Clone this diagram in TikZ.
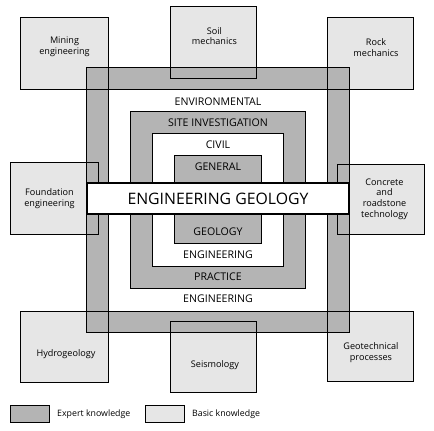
\documentclass[tikz,border=0pt]{standalone}
\usepackage{fontspec}
\setmainfont{Open Sans}
\definecolor{expert}{RGB}{180,180,180}
\definecolor{basic}{RGB}{230,230,230}
\tikzset{
  basicbox/.style={fill=basic, draw=black, line width=0.9pt},
  boxline/.style={draw=black, line width=0.9pt},
  frame/.style={fill=expert, even odd rule},
  boxlabel/.style={align=center, font=\fontsize{9.1}{10.8}\selectfont, inner sep=0pt},
  layerlabel/.style={font=\fontsize{10.6}{12}\selectfont, inner sep=0pt},
  biglabel/.style={font=\fontsize{15.8}{18}\selectfont, inner sep=0pt},
  legendlabel/.style={anchor=west, font=\fontsize{8.8}{10}\selectfont, inner sep=0pt}
}
\begin{document}
\begin{tikzpicture}[x=1pt, y=-1pt]
\useasboundingbox (0,0) rectangle (434,431);
% basic knowledge boxes
\path[basicbox] (20.5,17.5) rectangle (108.5,89.5);
\path[basicbox] (170.5,6.5) rectangle (256.5,78.5);
\path[basicbox] (327.5,17.5) rectangle (413.5,89.5);
\path[basicbox] (10.5,162.5) rectangle (98.5,234.5);
\path[basicbox] (337.5,164.5) rectangle (424.5,234.5);
\path[basicbox] (20.5,311) rectangle (108.5,382);
\path[basicbox] (170.5,321) rectangle (256.5,392);
\path[basicbox] (327.5,311) rectangle (413.5,381);
% outer expert frame
\path[frame] (86.5,67.5) rectangle (349.3,332.3) (108.5,89.5) rectangle (327.5,311);
% box outlines visible through frame
\path[boxline] (20.5,17.5) rectangle (108.5,89.5);
\path[boxline] (170.5,6.5) rectangle (256.5,78.5);
\path[boxline] (327.5,17.5) rectangle (413.5,89.5);
\path[boxline] (10.5,162.5) rectangle (98.5,234.5);
\path[boxline] (337.5,164.5) rectangle (424.5,234.5);
\path[boxline] (20.5,311) rectangle (108.5,382);
\path[boxline] (170.5,321) rectangle (256.5,392);
\path[boxline] (327.5,311) rectangle (413.5,381);
\path[boxline] (86.5,67.5) rectangle (349.3,332.3);
\path[boxline] (108.5,89.5) rectangle (327.5,311);
% middle expert frame
\path[frame] (130.5,111.5) rectangle (305.5,288) (152.5,133.5) rectangle (283.5,266);
\path[boxline] (130.5,111.5) rectangle (305.5,288);
\path[boxline] (152.5,133.5) rectangle (283.5,266);
% inner expert box
\path[fill=expert, boxline] (174.5,155.3) rectangle (261.5,243.3);
% central bar
\path[fill=white, draw=black, line width=2.7pt] (87,183) rectangle (349,214);
% labels
\node[biglabel] (eg) at (218,198.5) {ENGINEERING GEOLOGY};
\node[layerlabel] (env) at (218,101.5) {ENVIRONMENTAL};
\node[layerlabel] (site) at (218,123) {SITE INVESTIGATION};
\node[layerlabel] (civil) at (218,145) {CIVIL};
\node[layerlabel] (general) at (218,166.7) {GENERAL};
\node[layerlabel] (geology) at (218,231.7) {GEOLOGY};
\node[layerlabel] (eng1) at (218,254.3) {ENGINEERING};
\node[layerlabel] (practice) at (218,276.7) {PRACTICE};
\node[layerlabel] (eng2) at (218,298.3) {ENGINEERING};
\node[boxlabel] (mining) at (64.5,46.5) {Mining\\engineering};
\node[boxlabel] (soil) at (214.5,36) {Soil\\mechanics};
\node[boxlabel] (rock) at (376,47.5) {Rock\\mechanics};
\node[boxlabel] (found) at (49.5,198.5) {Foundation\\engineering};
\node[boxlabel] (concrete) at (384.5,199) {Concrete\\and\\roadstone\\technology};
\node[boxlabel] (hydro) at (66,354) {Hydrogeology};
\node[boxlabel] (seis) at (215,365) {Seismology};
\node[boxlabel] (geotech) at (371,352.5) {Geotechnical\\processes};
% legend
\path[fill=expert, boxline] (10.5,405.5) rectangle (49.5,422.5);
\path[basicbox] (145.5,405.5) rectangle (184.5,422.5);
\node[legendlabel] (expertlab) at (57,414.5) {Expert knowledge};
\node[legendlabel] (basiclab) at (192,414.5) {Basic knowledge};
\end{tikzpicture}
\end{document}
